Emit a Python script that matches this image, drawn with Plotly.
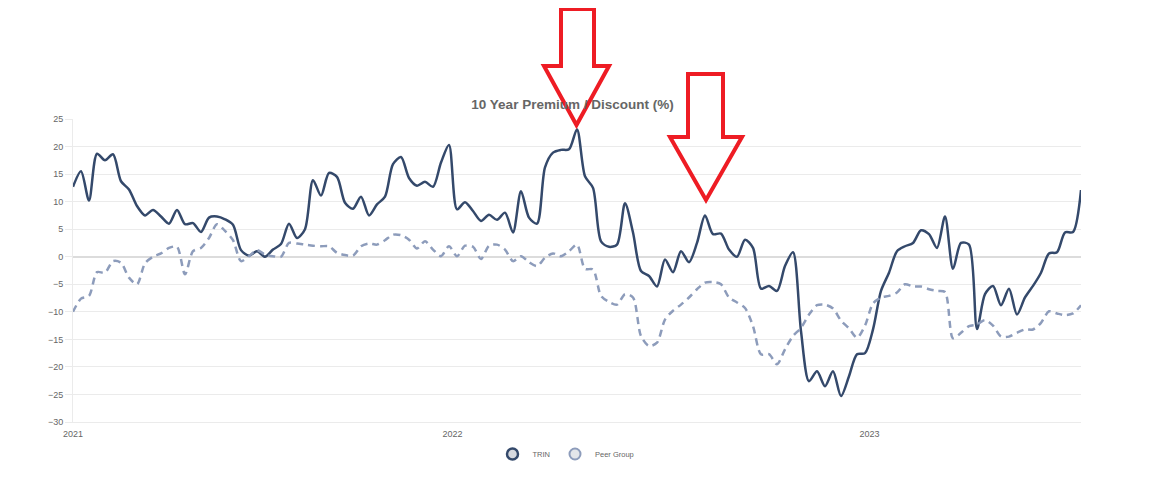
import plotly.graph_objects as go
import pandas as pd

# ---------------- data ----------------
start_date = "2021-02-03"          # first weekly observation
trin = [12.7, 15.5, 10.2, 18.7, 17.5, 18.6, 13.7, 12.2, 9.2, 7.5,
        8.5, 7.3, 6.0, 8.5, 5.9, 6.1, 4.5, 7.1, 7.3, 6.8,
        5.8, 1.2, 0.2, 1.0, 0.0, 1.3, 2.3, 6.0, 3.4, 5.0,
        13.9, 11.1, 15.2, 14.5, 9.8, 8.7, 10.9, 7.5, 9.5, 10.9,
        16.8, 18.1, 14.3, 12.9, 13.6, 12.7, 17.1, 20.3, 8.6, 9.9,
        8.3, 6.5, 7.6, 6.7, 8.0, 4.4, 11.9, 7.1, 6.0, 16.2,
        18.9, 19.4, 19.5, 23.1, 14.6, 12.5, 2.8, 1.8, 2.2, 9.7,
        4.4, -2.6, -3.5, -5.4, -0.5, -2.8, 1.0, -1.0, 2.5, 7.5,
        4.1, 4.2, 1.3, 0.0, 3.1, 1.6, -5.8, -5.3, -6.2, -1.7,
        0.8, -13.5, -22.6, -20.8, -23.5, -20.8, -25.3, -21.7, -17.7, -17.5,
        -13.2, -6.2, -2.9, 1.0, 1.9, 2.5, 4.8, 4.1, 1.6, 7.3,
        -2.2, 2.5, 2.2, -13.1, -6.8, -5.3, -8.8, -5.8, -10.5, -7.4,
        -5.3, -2.9, 0.6, 0.8, 4.4, 4.5, 12.1]
peer = [-10.0, -7.6, -7.1, -2.8, -2.9, -0.8, -1.1, -3.8, -5.0, -1.2,
        0.0, 0.6, 1.6, 1.8, -3.2, 1.0, 1.6, 3.4, 5.9, 4.7,
        3.0, -0.8, 0.1, 1.2, 0.4, 0.1, 0.0, 2.5, 2.4, 2.2,
        2.0, 1.9, 1.9, 0.7, 0.3, 0.2, 1.9, 2.4, 2.2, 3.0,
        4.0, 3.9, 3.1, 1.5, 2.8, 1.3, 0.1, 1.9, 0.1, 2.0,
        1.8, -0.4, 2.0, 2.2, 1.3, -0.8, 0.1, -1.0, -1.7, -0.2,
        0.6, 0.1, 1.0, 2.2, -2.2, -2.3, -7.1, -8.2, -8.7, -6.8,
        -7.4, -14.4, -16.2, -15.6, -11.4, -9.8, -8.7, -7.4, -5.9, -4.7,
        -4.6, -5.0, -7.4, -8.3, -9.3, -12.6, -17.7, -17.7, -19.5, -16.8,
        -14.4, -12.9, -10.5, -8.8, -8.7, -9.4, -11.6, -13.0, -14.7, -12.5,
        -8.5, -7.4, -7.1, -6.5, -5.0, -5.4, -5.4, -5.9, -6.2, -6.4,
        -14.8, -13.8, -12.6, -12.3, -11.5, -12.5, -14.5, -14.5, -13.8, -13.2,
        -13.2, -12.0, -9.9, -10.3, -10.6, -10.3, -8.8]
year_tick_dates = ["2021-02-03", "2022-01-01", "2023-01-01"]
year_tick_labels = ["2021", "2022", "2023"]
y_ticks = [-30, -25, -20, -15, -10, -5, 0, 5, 10, 15, 20, 25]
series_names = ["TRIN", "Peer Group"]

dates = pd.date_range(start_date, periods=len(trin), freq="7D")

# ---------------- style ----------------
OFF = 8                      # page body margin in the browser
W, H = 1143, 478
ML, MR, MT, MB = 65, 70, 111, 64
PW, PH = W - ML - MR, H - MT - MB
TRIN_C = "#34496b"
PEER_C = "#8d9cbb"
GRID_C = "#ebebeb"
TXT_C = "#666666"
FONT = "Liberation Sans, Arial, Helvetica, sans-serif"

fig = go.Figure()
fig.add_trace(go.Scatter(
    x=dates, y=trin, name=series_names[0], mode="lines", showlegend=False,
    line=dict(color=TRIN_C, width=2.5, shape="spline", smoothing=0.8)))
fig.add_trace(go.Scatter(
    x=dates, y=peer, name=series_names[1], mode="lines", showlegend=False,
    line=dict(color=PEER_C, width=2.5, dash="7px,5px", shape="spline", smoothing=0.8)))

# legend entries (circle point style)
fig.add_trace(go.Scatter(
    x=[None], y=[None], name=series_names[0], mode="markers",
    marker=dict(symbol="circle", size=11, color="#d6d9df",
                line=dict(color=TRIN_C, width=2.5))))
fig.add_trace(go.Scatter(
    x=[None], y=[None], name=series_names[1], mode="markers",
    marker=dict(symbol="circle", size=11, color="#e4e6ea",
                line=dict(color=PEER_C, width=2))))


def pp(px, py):
    """page pixel -> paper coords"""
    return ((px - OFF - ML) / PW, (H - MB - (py - OFF)) / PH)


def arrow_path(pts):
    s = ""
    for k, (px, py) in enumerate(pts):
        x, y = pp(px, py)
        s += ("M" if k == 0 else " L") + f"{x:.5f},{y:.5f}"
    return s + " Z"


arrow1 = [(561, 9), (594, 9), (594, 66), (609, 66), (576.5, 125), (544, 66), (561, 66)]
arrow2 = [(688, 74), (723, 74), (723, 137), (742, 137), (706, 200), (670, 137), (688, 137)]

shapes = []
for a in (arrow1, arrow2):
    shapes.append(dict(type="path", xref="paper", yref="paper", path=arrow_path(a),
                       line=dict(color="#ee1c24", width=4), fillcolor="rgba(0,0,0,0)",
                       layer="above"))

fig.update_layout(
    width=W, height=H,
    margin=dict(l=ML, r=MR, t=MT, b=MB, pad=0),
    paper_bgcolor="white", plot_bgcolor="white",
    font=dict(family=FONT, color=TXT_C, size=9),
    title=dict(text="<b>10 Year Premium / Discount (%)</b>",
               x=pp(572.5, 0)[0], xref="paper", xanchor="center",
               y=1 - (104 - OFF) / H, yref="container", yanchor="middle",
               font=dict(family=FONT, size=13.5, color=TXT_C)),
    xaxis=dict(type="date", range=[dates[0], dates[-1]],
               tickmode="array", tickvals=year_tick_dates, ticktext=year_tick_labels,
               showgrid=False, zeroline=False, showline=True, linecolor=GRID_C,
               ticks="outside", ticklen=3, tickcolor="rgba(0,0,0,0)",
               tickfont=dict(size=9, color=TXT_C)),
    yaxis=dict(range=[-30, 25], tickmode="array", tickvals=y_ticks,
               showgrid=True, gridcolor=GRID_C, gridwidth=1,
               zeroline=True, zerolinecolor="#dcdcdc", zerolinewidth=2,
               showline=True, linecolor=GRID_C,
               ticks="outside", ticklen=7, tickcolor=GRID_C,
               tickfont=dict(size=9, color=TXT_C)),
    legend=dict(orientation="h", x=pp(566, 0)[0], xanchor="center",
                y=pp(0, 454)[1], yanchor="middle",
                font=dict(size=7.5, color=TXT_C), itemwidth=30,
                bgcolor="rgba(0,0,0,0)"),
    shapes=shapes,
)

fig.write_html("out.html")
